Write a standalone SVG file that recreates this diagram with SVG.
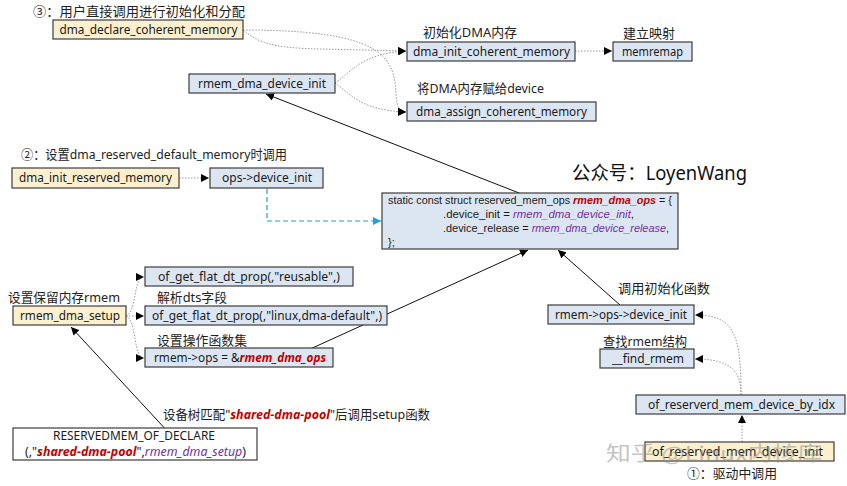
<svg xmlns="http://www.w3.org/2000/svg" width="847" height="486" viewBox="0 0 847 486">
<defs>
<style>
.bx{stroke:#3c3c3c;stroke-width:1.2}
.cr{fill:#fcf0cf}
.bl{fill:#dce6f2}
.wh{fill:#ffffff}
.t{font-family:"Noto Sans","Noto Sans CJK SC",sans-serif;font-size:12px;fill:#1a1a1a;text-anchor:middle}
.c{font-family:"Noto Sans","Noto Sans CJK SC",sans-serif;font-size:13px;fill:#222}
.s{font-family:"Liberation Sans","Noto Sans CJK SC",sans-serif;font-size:11px;fill:#1a1a1a}
.red{fill:#c00000;font-weight:bold;font-style:italic}
.pur{fill:#7030a0;font-style:italic}
.dot{fill:none;stroke:#9a9a9a;stroke-width:1;stroke-dasharray:1.5 1.5}
.sol{fill:none;stroke:#111;stroke-width:1}
.cy{fill:none;stroke:#1ea0d8;stroke-width:1.2;stroke-dasharray:5 3}
</style>
<marker id="ah" viewBox="0 0 10 10" refX="10" refY="5" markerWidth="8" markerHeight="8" markerUnits="userSpaceOnUse" orient="auto">
<path d="M0,0 L10,5 L0,10 z" fill="#000"/>
</marker>
<marker id="ahc" viewBox="0 0 10 10" refX="10" refY="5" markerWidth="8" markerHeight="8" markerUnits="userSpaceOnUse" orient="auto">
<path d="M0,0 L10,5 L0,10 z" fill="#1ea0d8"/>
</marker>
</defs>
<rect width="847" height="486" fill="#ffffff"/>

<g id="labels">
<text class="c" x="33" y="16" textLength="212" lengthAdjust="spacingAndGlyphs">③：用户直接调用进行初始化和分配</text>
<text class="c" x="423" y="37" textLength="94" lengthAdjust="spacingAndGlyphs">初始化DMA内存</text>
<text class="c" x="623" y="38" textLength="52" lengthAdjust="spacingAndGlyphs">建立映射</text>
<text class="c" x="417" y="93" textLength="127" lengthAdjust="spacingAndGlyphs">将DMA内存赋给device</text>
<text class="c" x="21" y="159" textLength="266" lengthAdjust="spacingAndGlyphs">②：设置dma_reserved_default_memory时调用</text>
<text x="572" y="180" font-family="Noto Sans,Noto Sans CJK SC,sans-serif" font-size="19" fill="#111" textLength="175" lengthAdjust="spacingAndGlyphs">公众号：LoyenWang</text>
<text class="c" x="8" y="302" textLength="112" lengthAdjust="spacingAndGlyphs">设置保留内存rmem</text>
<text class="c" x="157" y="302" textLength="70" lengthAdjust="spacingAndGlyphs">解析dts字段</text>
<text class="c" x="157" y="345" textLength="90" lengthAdjust="spacingAndGlyphs">设置操作函数集</text>
<text class="c" x="163" y="419" textLength="267" lengthAdjust="spacingAndGlyphs">设备树匹配"<tspan class="red">shared-dma-pool</tspan>"后调用setup函数</text>
<text class="c" x="618" y="293" textLength="92" lengthAdjust="spacingAndGlyphs">调用初始化函数</text>
<text class="c" x="603" y="346" textLength="84" lengthAdjust="spacingAndGlyphs">查找rmem结构</text>
<text class="c" x="687" y="478" textLength="90" lengthAdjust="spacingAndGlyphs">①：驱动中调用</text>
</g>

<g id="connectors">
<path class="dot" d="M243,30 C380,30 395,55 396,95 C397,107 399,112 406,112" marker-end="url(#ah)"/>
<path class="dot" d="M243,30 C258,42 270,48 320,49 L406,51" marker-end="url(#ah)"/>
<path class="dot" d="M335,83 C352,72 360,54 406,51" marker-end="url(#ah)"/>
<path class="dot" d="M335,83 C352,95 360,110 406,112" marker-end="url(#ah)"/>
<path class="dot" d="M575,51 L612,51" marker-end="url(#ah)"/>
<path class="dot" d="M179,178 L209,178" marker-end="url(#ah)"/>
<path class="cy" d="M267,189 L267,221 L381,221" marker-end="url(#ahc)"/>
<path class="sol" d="M583,218 L266,94" marker-end="url(#ah)"/>
<path class="sol" d="M297,355 L528,250" marker-end="url(#ah)"/>
<path class="sol" d="M620,305 L558,250" marker-end="url(#ah)"/>
<path class="sol" d="M182,447 L71,327" marker-end="url(#ah)"/>
<path class="dot" d="M126,316 C137,312 133,277 144,277" marker-end="url(#ah)"/>
<path class="dot" d="M126,316 L144,316" marker-end="url(#ah)"/>
<path class="dot" d="M126,316 C137,320 133,358 144,358" marker-end="url(#ah)"/>
<path class="dot" d="M742,442 L742,415" marker-end="url(#ah)"/>
<path class="dot" d="M741,395 C741,335 735,315 695,315" marker-end="url(#ah)"/>
<path class="dot" d="M741,395 C741,372 732,359 695,359" marker-end="url(#ah)"/>
</g>

<g id="n_dma_declare"><rect class="bx cr" x="53" y="20" width="190" height="19"/><text class="t" x="148.5" y="34" textLength="178" lengthAdjust="spacingAndGlyphs">dma_declare_coherent_memory</text></g>
<g id="n_dma_init_coherent"><rect class="bx bl" x="407" y="42" width="168" height="19"/><text class="t" x="491.5" y="56" textLength="157" lengthAdjust="spacingAndGlyphs">dma_init_coherent_memory</text></g>
<g id="n_memremap"><rect class="bx bl" x="613" y="42" width="79" height="19"/><text class="t" x="652.5" y="56" textLength="61" lengthAdjust="spacingAndGlyphs">memremap</text></g>
<g id="n_rmem_dma_device_init"><rect class="bx bl" x="189" y="74" width="146" height="19"/><text class="t" x="262" y="88" textLength="128" lengthAdjust="spacingAndGlyphs">rmem_dma_device_init</text></g>
<g id="n_dma_assign"><rect class="bx bl" x="407" y="102" width="189" height="19"/><text class="t" x="501.5" y="116" textLength="171" lengthAdjust="spacingAndGlyphs">dma_assign_coherent_memory</text></g>
<g id="n_dma_init_reserved"><rect class="bx cr" x="12" y="168" width="167" height="20"/><text class="t" x="95.5" y="182" textLength="153" lengthAdjust="spacingAndGlyphs">dma_init_reserved_memory</text></g>
<g id="n_ops_device_init"><rect class="bx bl" x="210" y="168" width="113" height="20"/><text class="t" x="267" y="182" textLength="90" lengthAdjust="spacingAndGlyphs">ops-&gt;device_init</text></g>
<g id="n_struct">
<rect class="bx bl" x="382" y="193" width="296" height="56"/>
<text class="s" x="388" y="204" textLength="284" lengthAdjust="spacingAndGlyphs">static const struct reserved_mem_ops <tspan class="red">rmem_dma_ops</tspan> = {</text>
<text class="s" x="443" y="218" textLength="191" lengthAdjust="spacingAndGlyphs">.device_init = <tspan class="pur">rmem_dma_device_init</tspan>,</text>
<text class="s" x="443" y="232" textLength="226" lengthAdjust="spacingAndGlyphs">.device_release = <tspan class="pur">rmem_dma_device_release</tspan>,</text>
<text class="s" x="388" y="246">};</text>
</g>
<g id="n_reusable"><rect class="bx bl" x="145" y="267" width="208" height="19"/><text class="t" x="249" y="281" textLength="182" lengthAdjust="spacingAndGlyphs">of_get_flat_dt_prop(,"reusable",)</text></g>
<g id="n_rmem_dma_setup"><rect class="bx cr" x="13" y="306" width="113" height="19"/><text class="t" x="70" y="320" textLength="100" lengthAdjust="spacingAndGlyphs">rmem_dma_setup</text></g>
<g id="n_dma_default"><rect class="bx bl" x="145" y="306" width="242" height="19"/><text class="t" x="267" y="320" textLength="230" lengthAdjust="spacingAndGlyphs">of_get_flat_dt_prop(,"linux,dma-default",)</text></g>
<g id="n_rmem_ops"><rect class="bx bl" x="145" y="348" width="188" height="19"/><text class="t" x="240" y="362" textLength="172" lengthAdjust="spacingAndGlyphs">rmem-&gt;ops = &amp;<tspan class="red">rmem_dma_ops</tspan></text></g>
<g id="n_reservedmem_of_declare">
<rect class="bx wh" x="13" y="428" width="244" height="32"/>
<text class="t" x="134" y="440" textLength="162" lengthAdjust="spacingAndGlyphs">RESERVEDMEM_OF_DECLARE</text>
<text class="t" x="135.5" y="456" textLength="221" lengthAdjust="spacingAndGlyphs">(,"<tspan class="red">shared-dma-pool</tspan>",<tspan class="pur">rmem_dma_setup</tspan>)</text>
</g>
<g id="n_rmem_ops_device_init"><rect class="bx bl" x="548" y="305" width="146" height="19"/><text class="t" x="621" y="319" textLength="132" lengthAdjust="spacingAndGlyphs">rmem-&gt;ops-&gt;device_init</text></g>
<g id="n_find_rmem"><rect class="bx bl" x="600" y="349" width="94" height="19"/><text class="t" x="648" y="363" textLength="72" lengthAdjust="spacingAndGlyphs">__find_rmem</text></g>
<g id="n_by_idx"><rect class="bx bl" x="636" y="395" width="209" height="19"/><text class="t" x="741.5" y="409" textLength="187" lengthAdjust="spacingAndGlyphs">of_reserverd_mem_device_by_idx</text></g>
<g id="n_device_init"><rect class="bx cr" x="645" y="442" width="189" height="19"/><text class="t" x="737.5" y="456" textLength="171" lengthAdjust="spacingAndGlyphs">of_reserved_mem_device_init</text></g>

<g id="watermark" opacity="0.5">
<text x="606" y="461" font-family="Noto Sans CJK SC,Noto Sans,sans-serif" font-size="20" fill="#8c8c8c" textLength="216" lengthAdjust="spacingAndGlyphs">知乎 @Linux内核库</text>
</g>
</svg>
